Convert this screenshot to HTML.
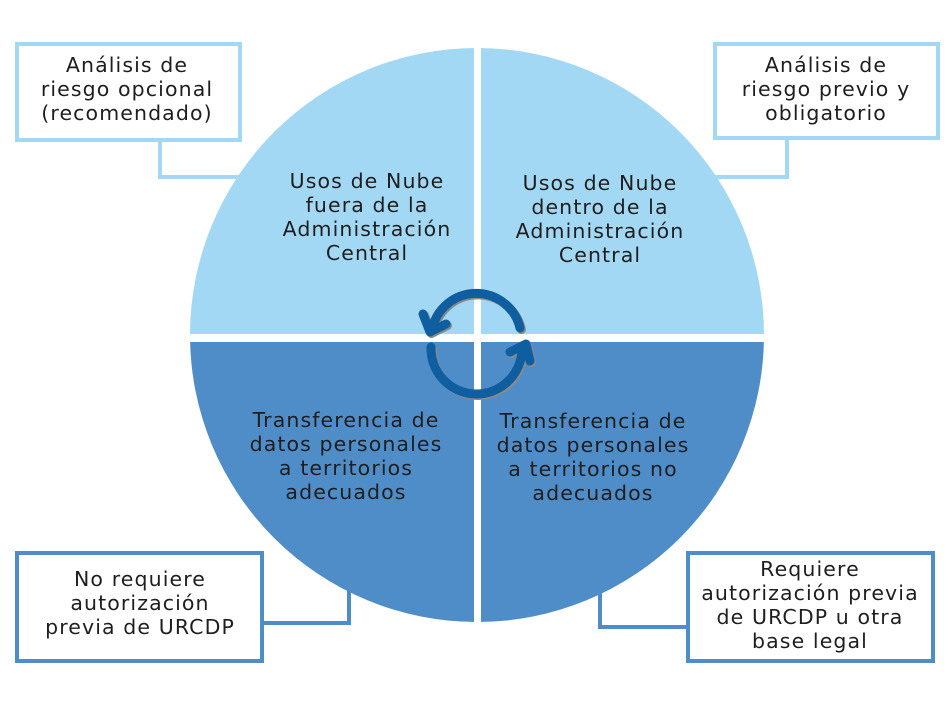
<!DOCTYPE html>
<html><head><meta charset="utf-8"><style>
body{margin:0;background:#fff;}
svg text{font-family:"DejaVu Sans","Liberation Sans",sans-serif;font-size:20.5px;letter-spacing:1.1px;fill:#1e1e1e;text-anchor:middle;}
</style></head><body>
<svg width="952" height="707" viewBox="0 0 952 707" xmlns="http://www.w3.org/2000/svg">
<defs><clipPath id="top"><rect x="0" y="0" width="952" height="338"/></clipPath>
<clipPath id="bot"><rect x="0" y="338" width="952" height="400"/></clipPath></defs>
<polyline points="160,142 160,177 260,177" fill="none" stroke="#A3D8F5" stroke-width="4"/>
<polyline points="787,140 787,177 700,177" fill="none" stroke="#A3D8F5" stroke-width="4"/>
<polyline points="349,590 349,623 264,623" fill="none" stroke="#4F8DC9" stroke-width="4"/>
<polyline points="600,590 600,627 686,627" fill="none" stroke="#4F8DC9" stroke-width="4"/>
<circle cx="477" cy="335" r="287" fill="#A3D8F5" clip-path="url(#top)"/>
<circle cx="477" cy="335" r="287" fill="#4F8DC9" clip-path="url(#bot)"/>
<rect x="474" y="40" width="7" height="600" fill="#fff"/>
<rect x="180" y="334" width="600" height="8" fill="#fff"/>
<rect x="17" y="44" width="223" height="96" fill="#fff" stroke="#A3D8F5" stroke-width="4"/>
<rect x="715" y="44" width="223" height="94" fill="#fff" stroke="#A3D8F5" stroke-width="4"/>
<rect x="17" y="553" width="245" height="108" fill="#fff" stroke="#4F8DC9" stroke-width="4"/>
<rect x="688" y="553" width="245" height="108" fill="#fff" stroke="#4F8DC9" stroke-width="4"/>
<text x="127" y="72">Análisis de</text><text x="127" y="96">riesgo opcional</text><text x="127" y="120">(recomendado)</text>
<text x="826" y="72">Análisis de</text><text x="826" y="96">riesgo previo y</text><text x="826" y="120">obligatorio</text>
<text x="140" y="586">No requiere</text><text x="140" y="610">autorización</text><text x="140" y="634">previa de URCDP</text>
<text x="810" y="576">Requiere</text><text x="810" y="600">autorización previa</text><text x="810" y="624">de URCDP u otra</text><text x="810" y="648">base legal</text>
<text x="367" y="188">Usos de Nube</text><text x="367" y="212">fuera de la</text><text x="367" y="236">Administración</text><text x="367" y="260">Central</text>
<text x="600" y="190">Usos de Nube</text><text x="600" y="214">dentro de la</text><text x="600" y="238">Administración</text><text x="600" y="262">Central</text>
<text x="346" y="427">Transferencia de</text><text x="346" y="451">datos personales</text><text x="346" y="475">a territorios</text><text x="346" y="499">adecuados</text>
<text x="593" y="428">Transferencia de</text><text x="593" y="452">datos personales</text><text x="593" y="476">a territorios no</text><text x="593" y="500">adecuados</text>
<g fill="none" stroke-width="9" stroke-linecap="round" stroke-linejoin="round">
<g stroke="#8a8a8a" transform="translate(1.5,1.5)">
<path d="M520,328 A45,45 0 0 0 432,330"/><path d="M423,314 L430,332 L446,324"/>
<path d="M431,347 A45,45 0 0 0 522,350"/><path d="M510,352 L526,344 L530,361"/>
</g>
<g stroke="#0F5EA0">
<path d="M520,328 A45,45 0 0 0 432,330"/><path d="M423,314 L430,332 L446,324"/>
<path d="M431,347 A45,45 0 0 0 522,350"/><path d="M510,352 L526,344 L530,361"/>
</g>
</g>
</svg>
</body></html>
